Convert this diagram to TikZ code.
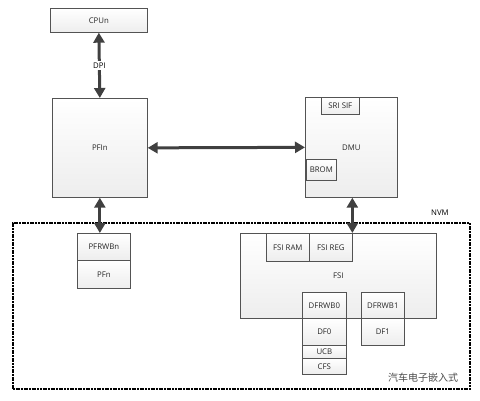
\documentclass[tikz,border=0pt]{standalone}
\usepackage{fontspec}
\setmainfont{Open Sans}
\newfontfamily\cjk{Noto Sans CJK SC}
\usetikzlibrary{arrows.meta,positioning}

\tikzset{
  blk/.style={draw=gray!65!black, line width=0.7pt, top color=white, bottom color=gray!14,
    inner sep=1pt, anchor=north west, text=black!85, font=\fontsize{7.8}{9}\selectfont},
  bus/.style={line width=3pt, draw=black!75, {Triangle[length=10pt,width=11pt]}-{Triangle[length=10pt,width=11pt]}},
  nvmbox/.style={draw=black, line width=1.6pt, dash pattern=on 2pt off 0.7pt, anchor=north west, inner sep=0pt}
}

\begin{document}
\begin{tikzpicture}[x=1pt,y=-1pt]
\useasboundingbox (0,0) rectangle (480,401);

\node[nvmbox, minimum width=457, minimum height=166] (nvm) at (12,222) {};
\node[font=\fontsize{7.8}{9}\selectfont, anchor=south] (nvml) at (440,219) {NVM};

\node[blk, minimum width=97, minimum height=24] (cpu) at (50,8) {CPUn};
\node[blk, minimum width=95, minimum height=99] (pfi) at (52,98) {PFIn};
\node[blk, minimum width=92, minimum height=100] (dmu) at (305,97) {DMU};
\node[blk, minimum width=38, minimum height=17] (srisif) at (321,97) {SRI SIF};
\node[blk, minimum width=30, minimum height=21] (brom) at (306,159) {BROM};

\node[blk, minimum width=53, minimum height=27] (pfrwb) at (77,233) {PFRWBn};
\node[blk, minimum width=53, minimum height=28] (pf) at (77,260) {PFn};

\node[blk, minimum width=196, minimum height=85] (fsi) at (240,233) {FSI};
\node[blk, minimum width=43, minimum height=28] (fsiram) at (266,233) {FSI RAM};
\node[blk, minimum width=43, minimum height=28] (fsireg) at (309,233) {FSI REG};
\node[blk, minimum width=44, minimum height=26] (dfrwb0) at (302,292) {DFRWB0};
\node[blk, minimum width=43, minimum height=26] (dfrwb1) at (361,292) {DFRWB1};
\node[blk, minimum width=44, minimum height=27] (df0) at (302,318) {DF0};
\node[blk, minimum width=43, minimum height=27] (df1) at (361,318) {DF1};
\node[blk, minimum width=44, minimum height=13] (ucb) at (302,345) {UCB};
\node[blk, minimum width=44, minimum height=16] (cfs) at (302,358) {CFS};

\node[text=gray!60!black, font=\cjk\fontsize{10}{12}\selectfont] (wm) at (423,378) {汽车电子嵌入式};

\draw[bus] (cpu.south) -- node[fill=white, inner sep=1.5pt, font=\fontsize{7.8}{9}\selectfont]{DPI} (pfi.north);
\draw[bus] (pfi.east) -- (dmu.west);
\draw[bus] (pfi.south) -- (pfi.south |- pfrwb.north);
\draw[bus] ([xshift=1pt]dmu.south) -- ([xshift=1pt]dmu.south |- fsi.north);
\end{tikzpicture}
\end{document}
